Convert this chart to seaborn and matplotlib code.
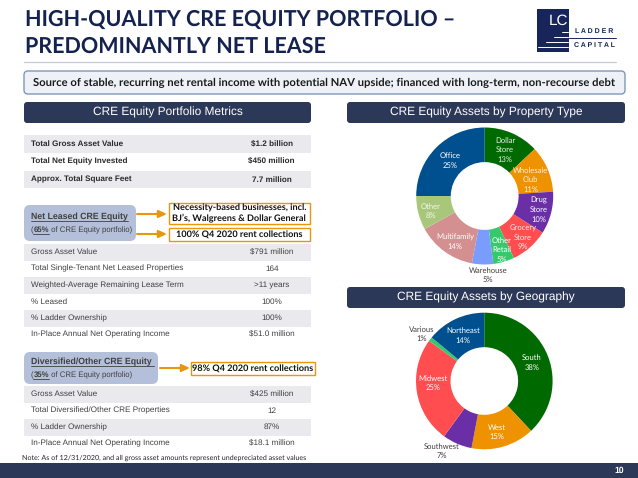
import matplotlib
matplotlib.use("Agg")
import matplotlib.pyplot as plt
from matplotlib.patches import FancyBboxPatch, Rectangle
import seaborn as sns

W, H = 638, 478
NAVY = "#2c3858"
TITLE = "#14224f"
ORANGE = "#e8960c"
STRIPE = "#e9e9ee"
BODY = "#404040"
HEAD_FONT = "Lato"
ARIAL = "Liberation Sans"

# donut data
type_labels = ["Dollar\nStore\n13%", "Wholesale\nClub\n11%", "Drug\nStore\n10%", "Grocery\nStore\n9%",
               "Other\nRetail\n5%", "Warehouse\n5%", "Multifamily\n14%", "Other\n8%", "Office\n25%"]
type_values = [13, 11, 10, 9, 5, 5, 14, 8, 25]
type_colors = ["#006a00", "#ee9200", "#6a2ea6", "#ff4d50", "#35c96b", "#7b9cff", "#d49090", "#a9c77a", "#004f8e"]

geo_labels = ["South\n38%", "West\n15%", "Southwest\n7%", "Midwest\n25%", "Various\n1%", "Northeast\n14%"]
geo_values = [38, 15, 7, 25, 1, 14]
geo_colors = ["#006a00", "#ee9200", "#6a2ea6", "#ff4d50", "#35c96b", "#004f8e"]

# table data
top_rows = [("Total Gross Asset Value", "$1.2 billion"),
            ("Total Net Equity Invested", "$450 million"),
            ("Approx. Total Square Feet", "7.7 million")]
net_rows = [("Gross Asset Value", "$791 million"),
            ("Total Single-Tenant Net Leased Properties", "164"),
            ("Weighted-Average Remaining Lease Term", ">11 years"),
            ("% Leased", "100%"),
            ("% Ladder Ownership", "100%"),
            ("In-Place Annual Net Operating Income", "$51.0 million")]
other_rows = [("Gross Asset Value", "$425 million"),
              ("Total Diversified/Other CRE Properties", "12"),
              ("% Ladder Ownership", "87%"),
              ("In-Place Annual Net Operating Income", "$18.1 million")]

sns.set_theme(style="white")
plt.rcParams["font.family"] = [ARIAL, "DejaVu Sans"]
plt.rcParams["text.hinting"] = "no_hinting"

fig = plt.figure(figsize=(W / 100, H / 100), dpi=100, facecolor="white")
# whole slide axes in pixel coordinates, y down
bg = fig.add_axes([0, 0, 1, 1])
bg.set_xlim(0, W)
bg.set_ylim(H, 0)
bg.axis("off")


def rounded(x0, y0, x1, y1, color, edge="none", lw=0, r=3):
    bg.add_patch(FancyBboxPatch((x0 + r, y0 + r), x1 - x0 - 2 * r, y1 - y0 - 2 * r,
                                boxstyle=f"round,pad={r},rounding_size={r}",
                                fc=color, ec=edge, lw=lw))


def draw_rows(rows, top, height, val_x=271.7, bold=False):
    for i, (name, val) in enumerate(rows):
        y0 = top + i * height
        if i % 2 == 0:
            bg.add_patch(Rectangle((24, y0), 287, height, fc=STRIPE, ec="none"))
        weight = "bold" if bold else "normal"
        ink = "#2a2a2a" if bold else BODY
        bg.text(31, y0 + height / 2, name, fontsize=5.9, color=ink, weight=weight, va="center")
        bg.text(val_x, y0 + height / 2, val, fontsize=5.9, color=ink, weight=weight, va="center", ha="center")


def callout(x0, y0, x1, y1, text, size=6.55):
    bg.add_patch(Rectangle((x0, y0), x1 - x0, y1 - y0, fc="white", ec=ORANGE, lw=1.0))
    bg.text((x0 + x1) / 2, (y0 + y1) / 2, text, fontsize=size, weight="bold", color="#111111",
            family=HEAD_FONT, ha="center", va="center", linespacing=1.1)


def arrow(x0, x1, y):
    bg.annotate("", xy=(x1, y), xytext=(x0, y),
                arrowprops=dict(arrowstyle="-|>,head_length=0.4,head_width=0.18", color=ORANGE,
                                lw=1.5, shrinkA=0, shrinkB=0))


def box_heading(x0, x1, y0, y1, title, share, title_end):
    rounded(x0, y0, x1, y1, "#b4bfd9", r=6)
    mid = (y0 + y1) / 2
    upper, lower = mid - 6.2, mid + 7.2
    bg.text(31, upper, title, fontsize=6.3, weight="bold", color=BODY, va="center")
    bg.plot([31, title_end], [upper + 4.4, upper + 4.4], color=BODY, lw=0.6)
    bg.text(31, lower, "(", fontsize=5.6, color=BODY, va="center")
    bg.text(33.4, lower, share, fontsize=5.6, weight="bold", color=BODY, va="center")
    bg.plot([33.4, 49], [lower + 3.7, lower + 3.7], color=BODY, lw=0.6)
    bg.text(49, lower, " of CRE Equity portfolio)", fontsize=5.6, color=BODY, va="center")


# title and logo
bg.text(25, 19.5, "HIGH-QUALITY CRE EQUITY PORTFOLIO \u2013", fontsize=15.5, weight="bold",
        color=TITLE, family=HEAD_FONT, va="center")
bg.text(25, 46.5, "PREDOMINANTLY NET LEASE", fontsize=15.5, weight="bold",
        color=TITLE, family=HEAD_FONT, va="center")
bg.plot([24, 616], [62, 62], color="#c3c9da", lw=0.9)

bg.add_patch(Rectangle((536.5, 9), 32.5, 43, fc="#17255a", ec="none"))
bg.text(558, 21, "LC", fontsize=11, color="white", ha="center", va="center")
for yy, x_start in [(32, 562), (36.7, 554), (41.7, 546), (46.7, 538)]:
    bg.plot([x_start, 568], [yy, yy], color="white", lw=0.7)
bg.plot([569, 616], [38, 38], color="#17255a", lw=0.7)
bg.text(594.5, 31, "L A D D E R", fontsize=5.0, weight="bold", color="#17255a", ha="center", va="center")
bg.text(594.5, 45, "C A P I T A L", fontsize=5.0, weight="bold", color="#17255a", ha="center", va="center")

# banner and section headers
rounded(24, 71, 625, 94, "#eef2f8", edge="#7f97bb", lw=1.0, r=4)
bg.text(324.5, 82.5, "Source of stable, recurring net rental income with potential NAV upside; financed with long-term, non-recourse debt",
        fontsize=8.13, weight="bold", color="#1a1a1a", family=HEAD_FONT, ha="center", va="center")

headers = [(24, 311, 102, 123, "CRE Equity Portfolio Metrics"),
           (347, 625, 102, 123, "CRE Equity Assets by Property Type"),
           (347, 625, 287, 308, "CRE Equity Assets by Geography")]
for x0, x1, y0, y1, label in headers:
    rounded(x0, y0, x1, y1, NAVY)
    bg.text((x0 + x1) / 2, (y0 + y1) / 2, label, fontsize=8.55, color="white", ha="center", va="center")

# left column
draw_rows(top_rows, 135, 17.8, bold=True)

box_heading(24, 136, 205, 241, "Net Leased CRE Equity", "65%", 128)
arrow(137, 167, 214)
arrow(137, 167, 234)
callout(168.5, 202.5, 310, 224, "Necessity-based businesses, incl.\nBJ\u2019s, Walgreens & Dollar General")
callout(168.5, 228, 310, 241, "100% Q4 2020 rent collections")
draw_rows(net_rows, 244, 16.5)

box_heading(24, 158, 352, 384, "Diversified/Other CRE Equity", "35%", 154)
arrow(160, 190, 368)
callout(191, 362, 315, 374.5, "98% Q4 2020 rent collections")
draw_rows(other_rows, 386, 16.5)
bg.text(21.5, 458, "Note: As of 12/31/2020, and all gross asset amounts represent undepreciated asset values",
        fontsize=5.15, color="#222222", family=HEAD_FONT, va="center")

# footer
bg.add_patch(Rectangle((0, 463), W, 15, fc=NAVY, ec="none"))
bg.text(619, 471, "10", fontsize=6.2, weight="bold", color="white", ha="center", va="center")


def donut(cx, cy, radius, values, colors):
    # axes sized so data units equal pixels
    box = radius + 2
    ax = fig.add_axes([(cx - box) / W, 1 - (cy + box) / H, 2 * box / W, 2 * box / H])
    ax.pie(values, colors=sns.color_palette(colors), startangle=90, counterclock=False, radius=radius,
           center=(0, 0), frame=False, wedgeprops=dict(width=radius * 0.505, linewidth=0))
    ax.set_xlim(-box, box)
    ax.set_ylim(-box, box)
    ax.axis("off")


donut(484.7, 196, 68.5, type_values, type_colors)
donut(484.3, 381, 68.3, geo_values, geo_colors)

# label anchor points in slide pixels
type_pos = [(505, 150), (530.7, 180), (539, 210), (522.7, 237.7), (501.7, 250), (488, 275), (455, 242), (431, 211), (450, 160.7)]
type_ink = ["#e6f2e6", "#fff3dc", "#ffffff", "#ffe9e9", "#ffffff", "#404040", "#ffffff", "#f4f7ec", "#ffffff"]
geo_pos = [(532, 362.7), (497, 432), (442, 451), (433, 383), (421.7, 334), (463, 335.7)]
geo_ink = ["#ffffff", "#ffffff", "#404040", "#ffffff", "#404040", "#ffffff"]

# labels go on an overlay above the donuts
top = fig.add_axes([0, 0, 1, 1], facecolor="none")
top.set_xlim(0, W)
top.set_ylim(H, 0)
top.axis("off")
for labels, pos, ink in [(type_labels, type_pos, type_ink), (geo_labels, geo_pos, geo_ink)]:
    for label, (x, y), c in zip(labels, pos, ink):
        top.text(x, y, label, fontsize=5.5, color=c, family=HEAD_FONT, ha="center", va="center", linespacing=1.35)

fig.savefig("out.png", dpi=100, facecolor="white")
